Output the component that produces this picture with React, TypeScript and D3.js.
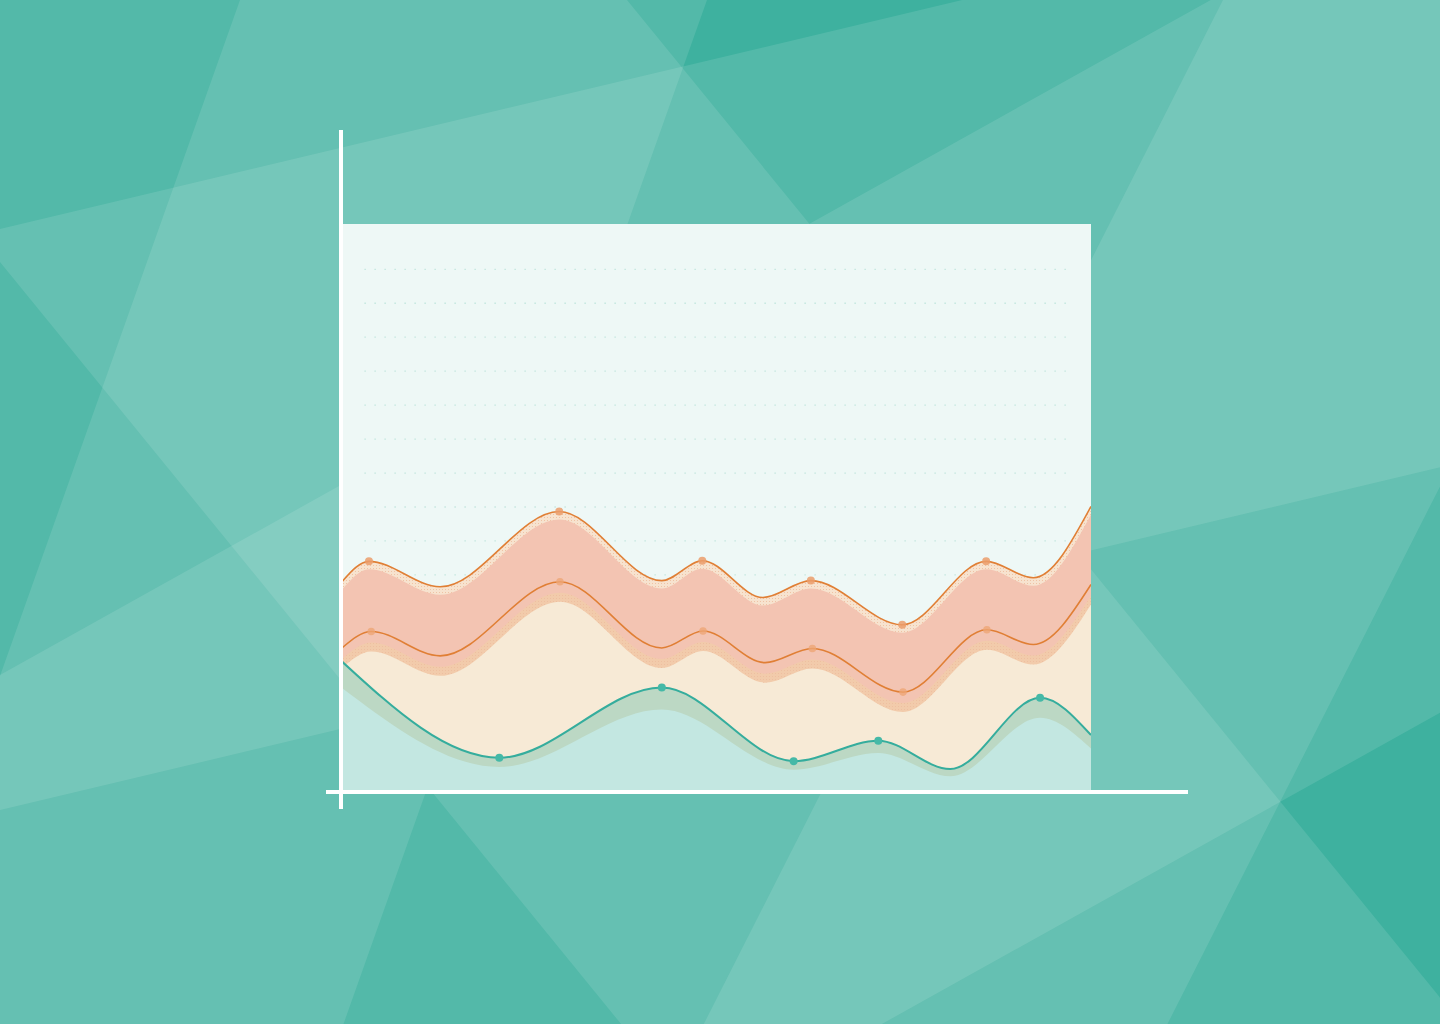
import React from "react";
import * as d3 from "d3";

// ---- data (x in 0..100 along the plot, y in 0..100 up the plot) ----
const topX = [0, 3.6, 13.1, 29.0, 42.7, 48.1, 56.2, 62.6, 74.8, 86.0, 92.3, 100];
const topY = [36.8, 40.4, 35.9, 49.2, 37.0, 40.5, 34.0, 37.0, 29.2, 40.4, 37.5, 50.1];
const topMarkers = [1, 3, 5, 7, 8, 9];

const midX = [0, 3.9, 13.1, 29.1, 42.7, 48.2, 56.5, 62.8, 74.9, 86.1, 92.3, 100];
const midY = [25.1, 28.0, 23.7, 36.8, 25.1, 28.1, 22.5, 25.0, 17.3, 28.3, 25.7, 36.3];
const midMarkers = [1, 3, 5, 7, 8, 9];

const tealX = [0, 21.0, 42.7, 60.3, 71.6, 81.2, 93.2, 100];
const tealY = [22.7, 5.7, 18.1, 5.1, 8.7, 3.7, 16.3, 9.7];
const tealMarkers = [1, 2, 3, 4, 6];
const tealShadowRatio = 0.82;
const tealShadowShift = -0.6;

const gridTicks = d3.range(38, 93, 6);

// background low-poly strips: line family x = c + k*y ("x") or y = c + k*x ("y")
const bgStrips = [
  { kind: "x", k: -0.355, c1: 240, c2: 707 },
  { kind: "y", k: -0.238, c1: 229, c2: 810 },
  { kind: "x", k: 0.815, c1: -213.5, c2: 627 },
  { kind: "y", k: -0.5575, c1: 675, c2: 1515.6 },
  { kind: "x", k: -0.507, c1: 1223, c2: 1686.6 },
];

const W = 1440;
const H = 1024;
const plot = { left: 342, right: 1091, top: 224, bottom: 790 };

type Pt = { x: number; v: number };
const zip = (xs: number[], ys: number[]): Pt[] => xs.map((x, i) => ({ x, v: ys[i] }));

function stripPath(s: { kind: string; k: number; c1: number; c2: number }) {
  const a = -80;
  if (s.kind === "x") {
    const b = H + 80;
    return `M${s.c1 + s.k * a},${a}L${s.c2 + s.k * a},${a}L${s.c2 + s.k * b},${b}L${s.c1 + s.k * b},${b}Z`;
  }
  const b = W + 80;
  return `M${a},${s.c1 + s.k * a}L${b},${s.c1 + s.k * b}L${b},${s.c2 + s.k * b}L${a},${s.c2 + s.k * a}Z`;
}

export default function App() {
  const x = d3.scaleLinear().domain([0, 100]).range([plot.left, plot.right]);
  const y = d3.scaleLinear().domain([0, 100]).range([plot.bottom, plot.top]);

  const top = zip(topX, topY);
  const mid = zip(midX, midY);
  const teal = zip(tealX, tealY);
  const tealShadow = teal.map((d) => ({ x: d.x, v: d.v * tealShadowRatio + tealShadowShift }));

  const curve = d3.curveMonotoneX;
  const line = d3
    .line<Pt>()
    .x((d) => x(d.x))
    .y((d) => y(d.v))
    .curve(curve);
  const areaDown = (off: number) =>
    d3
      .area<Pt>()
      .x((d) => x(d.x))
      .y1((d) => y(d.v) + off)
      .y0(plot.bottom + 40)
      .curve(curve);

  return (
    <div style={{ position: "absolute", left: 0, top: 0, width: W, height: H }}>
      <svg width={W} height={H} viewBox={`0 0 ${W} ${H}`} style={{ display: "block" }}>
        <defs>
          <clipPath id="plotClip">
            <rect x={plot.left} y={plot.top} width={plot.right - plot.left} height={plot.bottom - plot.top} />
          </clipPath>
          <pattern id="creamDots" width="3" height="3" patternUnits="userSpaceOnUse">
            <rect width="3" height="3" fill="#f7e3cf" />
            <rect x="1" y="1" width="1" height="1" fill="#efc3a5" />
          </pattern>
          <pattern id="orangeDots" width="3" height="3" patternUnits="userSpaceOnUse">
            <rect width="3" height="3" fill="#f2cbab" />
            <rect x="1" y="1" width="1" height="1" fill="#eebfa0" />
          </pattern>
        </defs>

        {/* background */}
        <rect width={W} height={H} fill="#3eb19f" />
        {bgStrips.map((s, i) => (
          <path key={i} d={stripPath(s)} fill="#ffffff" fillOpacity={0.11} />
        ))}

        {/* plot panel */}
        <rect
          x={plot.left}
          y={plot.top}
          width={plot.right - plot.left}
          height={plot.bottom - plot.top}
          fill="#eef8f6"
        />

        {/* dotted grid rows */}
        {gridTicks.map((t) => (
          <line
            key={t}
            x1={x(3)}
            x2={x(97.5)}
            y1={y(t)}
            y2={y(t)}
            stroke="#bfe4dd"
            strokeWidth={1.3}
            strokeDasharray="1.3 8.7"
          />
        ))}

        <g clipPath="url(#plotClip)">
          {/* top series band */}
          <path d={areaDown(0)(top) || ""} fill="url(#creamDots)" />
          <path d={areaDown(8)(top) || ""} fill="#f3c4b2" />
          {/* shadow under middle line */}
          <path d={areaDown(11)(mid) || ""} fill="url(#orangeDots)" />
          <path d={areaDown(20)(mid) || ""} fill="#f7ead6" />
          {/* bottom series */}
          <path d={areaDown(0)(teal) || ""} fill="#bcd8c4" />
          <path d={areaDown(0)(tealShadow) || ""} fill="#c3e7e1" />

          {/* lines */}
          <path d={line(top) || ""} fill="none" stroke="#e07f35" strokeWidth={1.6} />
          <path d={line(mid) || ""} fill="none" stroke="#e07f35" strokeWidth={1.6} />
          <path d={line(teal) || ""} fill="none" stroke="#35ad9d" strokeWidth={2} />

          {/* markers */}
          {topMarkers.map((i) => (
            <circle key={"t" + i} cx={x(top[i].x)} cy={y(top[i].v)} r={4} fill="#eb9e6b" fillOpacity={0.85} />
          ))}
          {midMarkers.map((i) => (
            <circle key={"m" + i} cx={x(mid[i].x)} cy={y(mid[i].v)} r={3.8} fill="#eda676" fillOpacity={0.8} />
          ))}
          {tealMarkers.map((i) => (
            <circle key={"g" + i} cx={x(teal[i].x)} cy={y(teal[i].v)} r={4} fill="#45b9a7" />
          ))}
        </g>

        {/* axes */}
        <line x1={341} x2={341} y1={130} y2={809} stroke="#ffffff" strokeWidth={4} />
        <line x1={326} x2={1188} y1={792} y2={792} stroke="#ffffff" strokeWidth={4} />
      </svg>
    </div>
  );
}
